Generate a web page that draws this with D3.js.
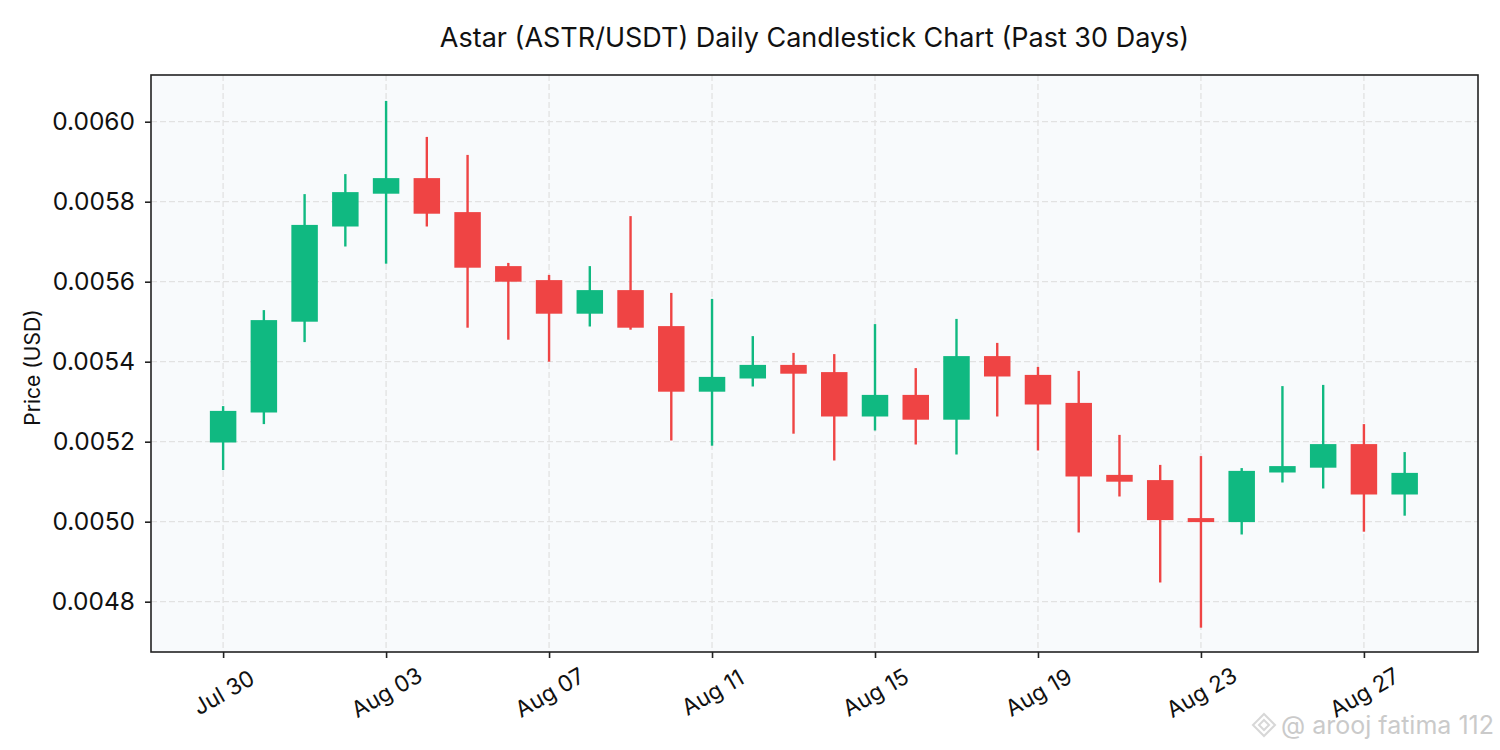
<!DOCTYPE html>
<html>
<head>
<meta charset="utf-8">
<script src="https://cdn.jsdelivr.net/npm/d3@7"></script>
<style>
  body { margin: 0; background: #ffffff; }
  svg text { font-family: "Inter", "Lato", sans-serif; fill: #111; }
</style>
</head>
<body>
<div id="chart"></div>
<script>
// day labels, Jul 30 .. Aug 28
const dates = ['Jul 30', 'Jul 31', 'Aug 01', 'Aug 02', 'Aug 03', 'Aug 04', 'Aug 05', 'Aug 06', 'Aug 07', 'Aug 08',
    'Aug 09', 'Aug 10', 'Aug 11', 'Aug 12', 'Aug 13', 'Aug 14', 'Aug 15', 'Aug 16', 'Aug 17', 'Aug 18',
    'Aug 19', 'Aug 20', 'Aug 21', 'Aug 22', 'Aug 23', 'Aug 24', 'Aug 25', 'Aug 26', 'Aug 27', 'Aug 28'];

const openVals = [0.005198, 0.005273, 0.005500, 0.005738, 0.005820, 0.005859, 0.005774, 0.005639, 0.005604, 0.005520,
    0.005579, 0.005489, 0.005325, 0.005358, 0.005392, 0.005374, 0.005263, 0.005317, 0.005255, 0.005414,
    0.005367, 0.005297, 0.005117, 0.005104, 0.005009, 0.004999, 0.005123, 0.005135, 0.005194, 0.005068];
const closeVals = [0.005277, 0.005504, 0.005742, 0.005824, 0.005859, 0.005770, 0.005635, 0.005600, 0.005520, 0.005579,
    0.005485, 0.005325, 0.005362, 0.005392, 0.005370, 0.005263, 0.005317, 0.005255, 0.005414, 0.005363,
    0.005293, 0.005113, 0.005100, 0.005004, 0.004999, 0.005127, 0.005139, 0.005194, 0.005068, 0.005122];
const highVals = [0.005289, 0.005529, 0.005819, 0.005869, 0.006052, 0.005962, 0.005917, 0.005647, 0.005617, 0.005639,
    0.005764, 0.005572, 0.005557, 0.005464, 0.005422, 0.005419, 0.005494, 0.005384, 0.005507, 0.005447,
    0.005387, 0.005377, 0.005217, 0.005142, 0.005164, 0.005134, 0.005339, 0.005342, 0.005244, 0.005174];
const lowVals = [0.005129, 0.005244, 0.005449, 0.005688, 0.005645, 0.005738, 0.005485, 0.005455, 0.005400, 0.005488,
    0.005480, 0.005203, 0.005190, 0.005338, 0.005220, 0.005153, 0.005228, 0.005193, 0.005168, 0.005263,
    0.005178, 0.004973, 0.005063, 0.004848, 0.004735, 0.004968, 0.005098, 0.005083, 0.004975, 0.005015];

const yTicks = [0.0048, 0.0050, 0.0052, 0.0054, 0.0056, 0.0058, 0.0060];
const xTickIdx = [0, 4, 8, 12, 16, 20, 24, 28];

const candles = dates.map((d, i) => ({
    i: i, date: d, open: openVals[i], close: closeVals[i], high: highVals[i], low: lowVals[i]
}));

const W = 1500, H = 750;
const margin = { top: 75, right: 22, bottom: 98, left: 151 };
const width = W - margin.left - margin.right;
const height = H - margin.top - margin.bottom;

const up = '#10b981', down = '#ef4444';

const svg = d3.select('#chart').append('svg')
    .attr('width', W)
    .attr('height', H);

const g = svg.append('g')
    .attr('transform', `translate(${margin.left}, ${margin.top})`);

// scales (x in day index)
const xScale = d3.scaleLinear()
    .domain([-1.77, dates.length - 1 + 1.8])
    .range([0, width]);

const yScale = d3.scaleLinear()
    .domain([0.0046742, 0.0061168])
    .range([height, 0]);

// plot background
g.append('rect')
    .attr('width', width)
    .attr('height', height)
    .attr('fill', '#f8fafc');

// grid
g.selectAll('.hgrid')
    .data(yTicks)
    .join('line')
    .attr('class', 'hgrid')
    .attr('x1', 0).attr('x2', width)
    .attr('y1', d => yScale(d)).attr('y2', d => yScale(d))
    .attr('stroke', '#e2e2e2')
    .attr('stroke-width', 1.3)
    .attr('stroke-dasharray', '6,3');

g.selectAll('.vgrid')
    .data(xTickIdx)
    .join('line')
    .attr('class', 'vgrid')
    .attr('y1', 0).attr('y2', height)
    .attr('x1', d => xScale(d)).attr('x2', d => xScale(d))
    .attr('stroke', '#e2e2e2')
    .attr('stroke-width', 1.3)
    .attr('stroke-dasharray', '6,3');

// wicks
const bodyW = xScale(0.65) - xScale(0);

g.selectAll('.wick')
    .data(candles)
    .join('line')
    .attr('class', 'wick')
    .attr('x1', d => xScale(d.i)).attr('x2', d => xScale(d.i))
    .attr('y1', d => yScale(d.high)).attr('y2', d => yScale(d.low))
    .attr('stroke', d => d.close >= d.open ? up : down)
    .attr('stroke-width', 2.4);

// bodies
g.selectAll('.body')
    .data(candles)
    .join('rect')
    .attr('class', 'body')
    .attr('x', d => xScale(d.i) - bodyW / 2)
    .attr('width', bodyW)
    .attr('y', d => yScale(Math.max(d.open, d.close)))
    .attr('height', d => Math.max(1.5, Math.abs(yScale(d.open) - yScale(d.close))))
    .attr('fill', d => d.close >= d.open ? up : down);

// frame
g.append('rect')
    .attr('width', width)
    .attr('height', height)
    .attr('fill', 'none')
    .attr('stroke', '#222')
    .attr('stroke-width', 1.6);

// axes
const yAxis = d3.axisLeft(yScale)
    .tickValues(yTicks)
    .tickFormat(d3.format('.4f'))
    .tickSize(6)
    .tickPadding(10);

const xAxis = d3.axisBottom(xScale)
    .tickValues(xTickIdx)
    .tickFormat(i => dates[i])
    .tickSize(6)
    .tickPadding(8);

const yG = g.append('g').attr('class', 'y-axis').call(yAxis);
yG.select('.domain').remove();
yG.selectAll('.tick line').attr('stroke', '#222').attr('stroke-width', 1.6);
yG.selectAll('.tick text').style('font-size', '24.5px').attr('fill', '#111');

const xG = g.append('g')
    .attr('class', 'x-axis')
    .attr('transform', `translate(0, ${height})`)
    .call(xAxis);
xG.select('.domain').remove();
xG.selectAll('.tick line').attr('stroke', '#222').attr('stroke-width', 1.6);
xG.selectAll('.tick text')
    .style('font-size', '22.5px')
    .attr('fill', '#111')
    .attr('dy', null)
    .attr('y', 0)
    .attr('text-anchor', 'middle')
    .attr('dominant-baseline', 'middle')
    .attr('transform', 'translate(1, 42) rotate(-30)');

// labels
svg.append('text')
    .attr('x', margin.left + width / 2)
    .attr('y', 47)
    .attr('text-anchor', 'middle')
    .style('font-size', '27px')
    .text('Astar (ASTR/USDT) Daily Candlestick Chart (Past 30 Days)');

svg.append('text')
    .attr('transform', `translate(40, ${margin.top + height / 2 + 4}) rotate(-90)`)
    .attr('text-anchor', 'middle')
    .style('font-size', '21px')
    .text('Price (USD)');

// watermark
const wm = svg.append('g').attr('transform', 'translate(1264, 725)').attr('opacity', 0.6);
wm.append('path')
    .attr('d', 'M0,-11 L11,0 L0,11 L-11,0 Z M0,-5 L5,0 L0,5 L-5,0 Z')
    .attr('fill', 'none')
    .attr('stroke', '#bdbdbd')
    .attr('stroke-width', 2);
wm.append('text')
    .attr('x', 17)
    .attr('y', 9)
    .style('font-size', '25px')
    .style('fill', '#a8a8a8')
    .text('@ arooj fatima 112');
</script>
</body>
</html>
